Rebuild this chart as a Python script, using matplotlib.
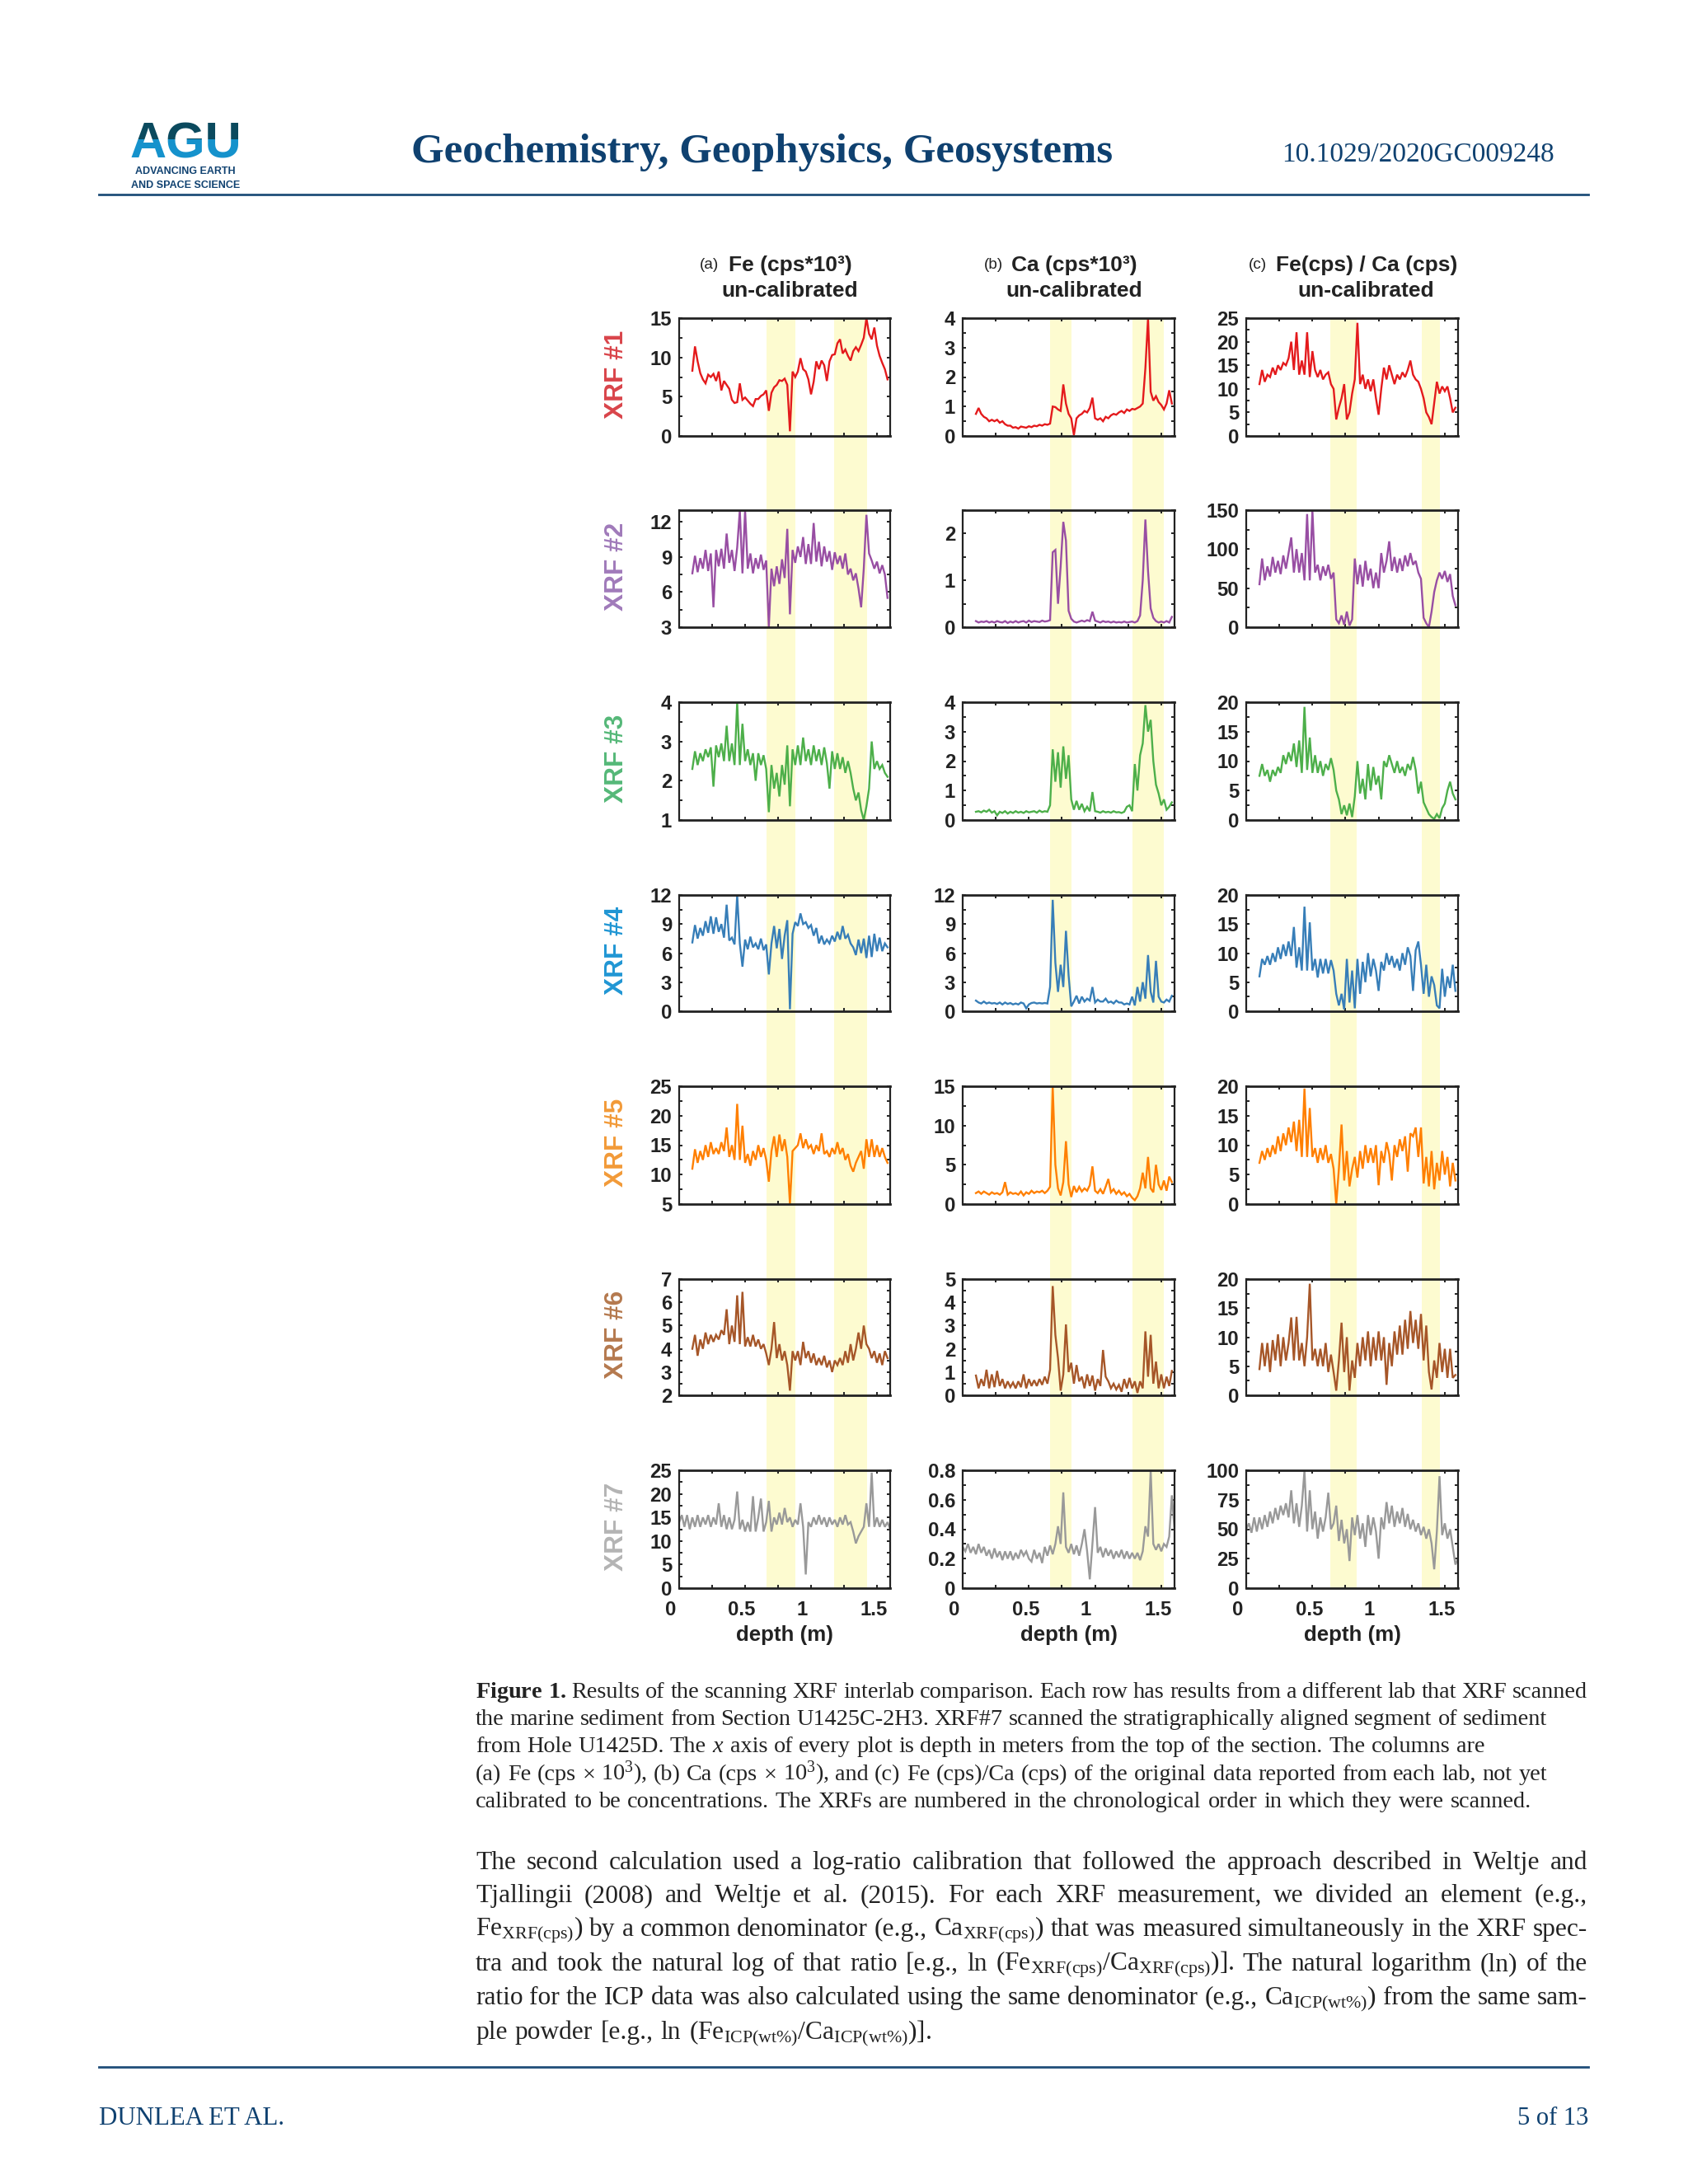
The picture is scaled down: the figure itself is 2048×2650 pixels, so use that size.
"""Scanning XRF interlab comparison figure on a journal page."""

import matplotlib

matplotlib.use("Agg")
import matplotlib.pyplot as plt
from matplotlib.patches import Rectangle
from matplotlib.ticker import AutoMinorLocator
from matplotlib.transforms import ScaledTranslation

plt.rcParams["mathtext.fontset"] = "custom"
plt.rcParams["mathtext.rm"] = "Liberation Serif"
plt.rcParams["mathtext.it"] = "Liberation Serif:italic"
plt.rcParams["mathtext.bf"] = "Liberation Serif:bold"

W, H = 2048, 2650
NAVY = "#0F4170"

DEPTH = [
    0.10, 0.12, 0.14, 0.16, 0.18, 0.20, 0.22, 0.24, 0.26, 0.28, 0.30, 0.32, 0.34, 0.36, 0.38,
    0.40, 0.42, 0.44, 0.46, 0.48, 0.50, 0.52, 0.54, 0.56, 0.58, 0.60, 0.62, 0.64, 0.66, 0.68,
    0.70, 0.72, 0.74, 0.76, 0.78, 0.80, 0.82, 0.84, 0.86, 0.88, 0.90, 0.92, 0.94, 0.96, 0.98,
    1.00, 1.02, 1.04, 1.06, 1.08, 1.10, 1.12, 1.14, 1.16, 1.18, 1.20, 1.22, 1.24, 1.26, 1.28,
    1.30, 1.32, 1.34, 1.36, 1.38, 1.40, 1.42, 1.44, 1.46, 1.48, 1.50, 1.52, 1.54, 1.56, 1.58,
]
# XRF #7 is the other hole, its record covers the whole axis
DEPTH_7 = [0.00, 0.02, 0.04, 0.06, 0.08] + DEPTH + [1.60]

FE_1 = [
    8.3, 11.4, 9.5, 8.0, 7.2, 6.7, 7.8, 7.5, 7.9, 7.0, 8.2, 5.8, 7.0, 6.5, 6.0,
    4.6, 4.2, 4.3, 6.7, 4.6, 4.9, 4.5, 4.1, 3.8, 4.7, 4.7, 5.1, 5.3, 5.8, 3.2,
    5.5, 6.2, 6.5, 7.1, 7.0, 7.3, 6.5, 0.6, 8.2, 7.5, 8.2, 9.9, 8.5, 8.2, 7.2,
    5.3, 6.9, 9.5, 8.5, 9.6, 9.0, 7.0, 9.5, 10.3, 10.4, 11.8, 12.3, 10.5, 11.0, 10.2,
    9.6, 10.8, 11.3, 10.8, 11.6, 12.5, 15.0, 13.0, 12.3, 13.8, 11.5, 10.2, 9.3, 8.5, 7.2,
]
CA_1 = [
    0.75, 0.95, 0.75, 0.65, 0.6, 0.5, 0.55, 0.5, 0.55, 0.45, 0.5, 0.4, 0.35, 0.35, 0.28,
    0.3, 0.25, 0.32, 0.3, 0.28, 0.33, 0.3, 0.35, 0.33, 0.38, 0.35, 0.4, 0.38, 0.42, 1.0,
    0.98, 0.9, 0.85, 1.75, 1.1, 0.75, 0.6, 0.03, 0.6, 0.7, 0.75, 0.85, 0.8, 0.95, 1.3,
    0.6, 0.55, 0.6, 0.5, 0.65, 0.6, 0.7, 0.75, 0.72, 0.8, 0.85, 0.78, 0.9, 0.85, 0.92,
    0.9, 0.95, 1.0, 1.1, 2.3, 4.0, 1.5, 1.2, 1.35, 1.15, 1.05, 0.9, 1.1, 1.55, 1.1,
]
RATIO_1 = [
    11, 14, 11.5, 13, 12.5, 14.5, 13, 15, 14, 15.5, 15, 16.5, 20, 14, 22,
    13, 16, 13, 22, 12.5, 18, 14, 12.5, 14, 12, 13, 13.5, 11, 10, 3.5,
    6, 8, 11, 3.5, 5, 9, 12, 24, 11, 13, 10, 12, 9.5, 12, 8,
    4.5, 10, 14.5, 12, 15, 13, 11, 13, 12, 13.5, 12.5, 14, 16, 13, 12,
    11.5, 10, 8, 5, 4, 2.5, 7, 11.5, 9, 10.5, 9.5, 10.5, 8, 5, 6,
]
FE_2 = [
    7.6, 9.1, 7.7, 8.9, 8.0, 9.6, 7.8, 9.3, 4.7, 9.6, 8.2, 9.7, 8.0, 11.0, 8.5,
    9.6, 7.8, 9.8, 13.0, 7.6, 13.0, 8.0, 9.3, 7.6, 8.9, 8.0, 9.2, 7.9, 8.7, 3.0,
    8.0, 6.5, 8.2, 6.7, 8.8, 7.2, 11.4, 4.1, 9.6, 8.5, 9.9, 9.0, 10.7, 8.4, 10.1,
    8.4, 11.9, 8.6, 10.3, 8.2, 9.9, 8.6, 9.5, 7.9, 9.4, 8.4, 9.1, 8.0, 9.3, 7.5,
    8.0, 7.0, 7.6, 6.3, 4.7, 8.0, 12.6, 9.3, 8.7, 8.0, 8.6, 7.6, 8.3, 7.5, 5.5,
]
CA_2 = [
    0.13, 0.1, 0.12, 0.11, 0.13, 0.1, 0.12, 0.1, 0.13, 0.11, 0.1, 0.13, 0.09, 0.12, 0.1,
    0.13, 0.1, 0.12, 0.13, 0.1, 0.14, 0.11, 0.13, 0.12, 0.11, 0.14, 0.12, 0.13, 0.15, 1.6,
    1.65, 0.5, 1.3, 2.25, 1.85, 0.35, 0.18, 0.12, 0.1, 0.12, 0.14, 0.12, 0.15, 0.13, 0.33,
    0.14, 0.12, 0.1, 0.13, 0.11, 0.12, 0.1, 0.12, 0.1, 0.11, 0.1, 0.12, 0.1, 0.11, 0.12,
    0.1, 0.13, 0.25, 1.0, 2.3, 1.2, 0.4, 0.2, 0.13, 0.1, 0.12, 0.1, 0.13, 0.1, 0.22,
]
RATIO_2 = [
    55, 88, 60, 78, 65, 90, 70, 85, 68, 92, 75, 95, 115, 70, 100,
    70, 95, 60, 145, 60, 150, 70, 80, 60, 78, 66, 80, 62, 70, 10,
    5, 15, 3, 20, 2, 10, 88, 55, 80, 52, 85, 60, 75, 50, 70,
    50, 95, 70, 85, 110, 72, 90, 70, 88, 72, 92, 78, 95, 80, 85,
    70, 62, 12, 5, 0, 20, 45, 60, 70, 62, 72, 58, 68, 40, 28,
]
FE_3 = [
    2.3, 2.75, 2.4, 2.7, 2.5, 2.8, 2.6, 2.85, 1.85, 2.9, 2.6, 2.95, 2.5, 3.4, 2.5,
    2.95, 2.4, 4.0, 2.4, 3.45, 2.5, 2.8, 2.4, 2.7, 2.0, 2.7, 2.4, 2.65, 2.3, 1.2,
    2.4, 1.8, 2.2, 1.6, 2.4, 1.9, 2.9, 1.35, 2.8, 2.4, 2.9, 2.4, 3.1, 2.5, 2.8,
    2.4, 2.9, 2.5, 2.8, 2.4, 2.85, 2.45, 1.8, 2.75, 2.3, 2.7, 2.3, 2.6, 2.2, 2.5,
    2.2, 1.8, 1.5, 1.7, 1.25, 1.0, 1.35, 1.8, 3.0, 2.3, 2.5, 2.3, 2.4, 2.2, 2.1,
]
CA_3 = [
    0.28, 0.3, 0.26, 0.32, 0.28, 0.35, 0.25, 0.3, 0.16, 0.28, 0.24, 0.3, 0.22, 0.28, 0.24,
    0.3, 0.25, 0.28, 0.24, 0.3, 0.26, 0.28, 0.3, 0.25, 0.32, 0.27, 0.3, 0.28, 0.5, 2.4,
    1.3, 2.3, 1.1, 2.5, 1.4, 2.2, 0.7, 0.35, 0.65, 0.35, 0.55, 0.3, 0.45, 0.3, 0.95,
    0.3, 0.28, 0.25, 0.3, 0.26, 0.28, 0.25, 0.3, 0.26, 0.27, 0.24, 0.28, 0.45, 0.5, 0.3,
    1.9, 1.0, 2.2, 2.6, 3.9, 3.0, 3.4, 2.0, 1.2, 0.9, 0.5, 0.7, 0.35, 0.45, 0.6,
]
RATIO_3 = [
    7.5, 9.5, 7.5, 8.5, 6.5, 8.5, 7.5, 9, 8, 11, 9.5, 11.5, 10, 13, 9,
    13.5, 8, 19.2, 8.5, 14, 8, 11, 8, 10, 7.5, 9.5, 8.5, 10.5, 8.5, 5,
    3.5, 1, 2.5, 0.8, 2.8, 0.5, 4, 10, 4.5, 7, 3.5, 9.5, 5, 9, 6,
    7.5, 3.5, 10, 9, 11, 9.5, 8, 10, 8, 9, 7.5, 9.5, 8.5, 10.7, 8.5,
    4.5, 6.5, 3, 2, 1, 0.5, 0.2, 1, 0.3, 2, 2.8, 5, 6.5, 4.5, 3.5,
]
FE_4 = [
    7.1, 8.9, 7.5, 8.6, 7.8, 9.3, 8.1, 9.8, 8.0, 9.7, 8.2, 9.0, 7.6, 11.0, 7.3,
    7.6, 6.9, 12.0, 7.0, 4.6, 7.4, 6.4, 7.7, 6.6, 7.0, 6.4, 7.5, 6.3, 6.9, 3.8,
    7.0, 8.8, 6.5, 8.5, 5.4, 7.8, 9.4, 0.2, 8.0, 9.2, 8.8, 10.1, 9.0, 9.2, 8.6,
    8.9, 7.8, 8.6, 7.0, 7.8, 6.9, 7.4, 7.0, 7.8, 7.2, 8.2, 7.4, 8.8, 7.5, 7.9,
    7.0, 6.6, 5.8, 7.4, 6.0, 7.5, 5.5, 7.8, 5.6, 8.0, 6.2, 7.6, 6.2, 7.0, 6.6,
]
CA_4 = [
    1.1, 0.9, 0.8, 1.0, 0.8, 0.9, 0.8, 0.85, 0.75, 0.9, 0.7, 0.9, 0.75, 0.85, 0.7,
    0.8, 0.7, 0.9, 0.8, 0.3, 0.7, 0.85, 0.9, 0.8, 0.85, 0.8, 0.85, 0.8, 2.5, 11.5,
    5, 2, 4.8, 2.5, 8.3, 3.7, 0.5, 1, 1.6, 0.8, 1.5, 1, 1.3, 1.1, 2.5,
    0.9, 1.2, 1, 1, 1.3, 0.9, 1, 0.8, 1.1, 0.9, 0.9, 0.7, 0.8, 0.7, 1.5,
    0.6, 2.5, 1, 3, 1.3, 5.8, 2, 0.9, 5.2, 1.5, 1, 0.9, 1.2, 1, 1.6,
]
RATIO_4 = [
    6, 9, 8, 9.5, 8, 10, 8.5, 11, 9, 11.5, 9.5, 12, 9.5, 14.5, 7.5,
    11, 7, 18, 7, 15.3, 7, 9, 5.8, 9, 6.5, 9, 6.5, 8.8, 7, 3,
    1, 3, 0.3, 9, 1.5, 7, 0.5, 9, 3, 8.5, 5, 10, 6, 9, 7,
    3.5, 8.5, 7, 10, 8, 9.5, 7.5, 9, 7, 10, 8, 11, 9.5, 3.5, 10.5,
    12, 8, 3, 8, 2.5, 6, 4.5, 1, 0.5, 7.3, 2.5, 6, 4, 8, 3.5,
]
FE_5 = [
    11, 14.3, 12, 14, 12.5, 15, 13, 15.5, 13.5, 14.5, 13.5, 15.5, 14, 18, 13,
    15, 12.5, 22, 12.5, 18.3, 12, 13.5, 11.5, 14, 12.5, 15, 13, 14.5, 12.5, 8.8,
    14, 16.5, 13, 16.8, 14, 16, 13, 5, 14, 14.5, 15, 17, 14.5, 16, 14.5,
    15, 13.5, 15, 14, 17, 13.5, 14, 13, 14.5, 13.5, 15.5, 13.5, 14.5, 12.5, 13.5,
    11.5, 10.5, 12, 13, 14, 11, 16, 13, 16, 13, 15, 13, 14.5, 13, 12,
]
CA_5 = [
    1.4, 1.6, 1.3, 1.6, 1.4, 1.2, 1.5, 1.3, 1.4, 1.2, 1.5, 2.8, 1.2, 1.5, 1.3,
    1.4, 1.2, 1.6, 1.1, 1.5, 1.3, 1.7, 1.4, 1.6, 1.5, 1.7, 1.4, 1.7, 2.2, 15,
    5, 2, 1.1, 2.8, 8, 2.5, 0.9, 2.3, 1.5, 2.2, 1.6, 2, 1.7, 2.4, 4.8,
    1.7, 1.4, 1.9, 1.3, 2.2, 3.2, 1.5, 1.9, 1.3, 1.7, 1.2, 1.5, 1, 1.3, 0.8,
    0.5, 1, 2, 4, 2, 6, 2, 1.5, 5, 2.5, 1.8, 3, 1.7, 3.5, 2.8,
]
RATIO_5 = [
    7, 9, 7.5, 9.5, 8, 10, 8.5, 11.5, 9, 12, 10, 13, 10.5, 14, 9,
    14.3, 8, 19.6, 8, 16.3, 8, 9.5, 7, 9.5, 7.5, 10, 7, 8.5, 6, 0,
    6, 13.5, 4, 9, 3, 6, 8, 4.5, 9, 6, 10, 7, 9.5, 7, 10,
    3.2, 9, 7, 10.5, 8.5, 4, 10, 8, 11, 9, 11.5, 5.5, 12, 11.5, 13,
    8, 13, 3.5, 8, 3, 9, 2.5, 7, 4, 9, 5, 8, 3, 7, 4,
]
FE_6 = [
    4, 4.6, 3.7, 4.4, 4, 4.7, 4.2, 4.6, 4.3, 4.6, 4.4, 4.8, 4.6, 5.7, 4.2,
    5, 4.3, 6.3, 4.2, 6.45, 4.1, 4.5, 4.1, 4.6, 4.1, 4.4, 4, 4.2, 3.8, 3.3,
    4, 5.15, 3.6, 4.2, 3.5, 3.9, 3.3, 2.2, 3.9, 3.5, 3.9, 3.3, 4.3, 3.6, 3.9,
    3.4, 3.8, 3.3, 3.6, 3.3, 3.7, 3.2, 3.5, 3, 3.5, 3.3, 3.6, 3.3, 3.9, 3.4,
    4.2, 3.5, 4, 4.7, 4, 5, 4.2, 4, 3.6, 3.9, 3.4, 3.8, 3.3, 3.9, 3.6,
]
CA_6 = [
    0.85, 0.3, 0.7, 0.4, 1.1, 0.3, 0.9, 0.35, 1.05, 0.4, 0.7, 0.3, 0.6, 0.35, 0.55,
    0.3, 0.6, 0.35, 0.9, 0.3, 0.7, 0.4, 0.65, 0.4, 0.7, 0.45, 0.8, 0.5, 1.1, 4.7,
    2.6, 1.6, 0.2, 0.9, 3.05, 1, 1.4, 0.5, 1.3, 0.6, 0.8, 0.3, 0.9, 0.4, 0.85,
    0.2, 0.7, 0.4, 1.95, 0.8, 0.6, 0.3, 0.5, 0.25, 0.45, 0.15, 0.7, 0.3, 0.75, 0.3,
    0.6, 0.1, 0.6, 0.3, 2.75, 0.8, 2.6, 0.5, 1.45, 0.3, 0.9, 0.3, 0.8, 0.4, 1.05,
]
RATIO_6 = [
    4.5, 9, 5, 9, 4, 9.5, 6, 10.5, 5, 10, 6, 9, 13.4, 6, 13.5,
    6, 9, 5, 10, 19.2, 6, 8, 5, 8, 5, 9, 4, 7, 4, 0.8,
    6, 12.5, 4, 10, 0.8, 6, 3, 9, 5, 10, 6, 11, 5, 10, 6,
    11, 6, 10, 1.8, 9, 5, 11, 7, 12, 7, 13, 8, 14.5, 9, 13,
    8, 14, 6, 12, 4, 1, 6, 3, 9, 4, 8, 3, 8, 3, 3.5,
]
FE_7 = [
    14, 15.5, 13, 15.5, 12.5,
    15, 13, 15.5, 13, 15, 13.5, 15.5, 13, 15, 13.5, 18, 13, 15.5, 12.5, 15,
    12.5, 14.5, 20.5, 12.5, 14.5, 12, 14, 12, 19.5, 12, 15, 19, 12, 14, 18.5,
    12, 15, 13.5, 16, 13.5, 17, 14, 15, 13, 14.5, 13.5, 18, 13, 2.9, 14,
    13, 15, 13.5, 15.5, 13.5, 15, 13, 15, 13.5, 14.5, 13, 15, 13.5, 15.5, 13.5,
    14, 12, 9.5, 11, 12, 13, 18, 13, 24.5, 13, 15, 13, 14.5, 13, 14,
    12.5,
]
CA_7 = [
    0.28, 0.25, 0.3, 0.24, 0.28,
    0.23, 0.3, 0.24, 0.28, 0.22, 0.26, 0.2, 0.27, 0.21, 0.25, 0.19, 0.25, 0.2, 0.25, 0.19,
    0.24, 0.2, 0.26, 0.22, 0.25, 0.2, 0.18, 0.26, 0.2, 0.24, 0.17, 0.28, 0.22, 0.29, 0.23,
    0.3, 0.42, 0.3, 0.65, 0.28, 0.24, 0.3, 0.23, 0.29, 0.22, 0.3, 0.4, 0.25, 0.06, 0.3,
    0.55, 0.24, 0.28, 0.21, 0.27, 0.22, 0.26, 0.2, 0.25, 0.21, 0.26, 0.2, 0.25, 0.2, 0.24,
    0.2, 0.24, 0.19, 0.25, 0.42, 0.35, 0.8, 0.3, 0.26, 0.3, 0.25, 0.3, 0.28, 0.35, 0.63,
    0.4,
]
RATIO_7 = [
    50, 55, 47, 60, 48,
    60, 50, 62, 52, 65, 55, 68, 58, 70, 62, 72, 60, 83, 55, 72,
    52, 70, 100, 48, 83, 50, 65, 42, 60, 48, 60, 81, 50, 55, 70,
    40, 58, 38, 50, 23, 60, 45, 62, 42, 55, 35, 62, 45, 60, 48,
    25, 60, 50, 73, 55, 70, 52, 65, 55, 68, 52, 63, 50, 58, 48,
    55, 45, 52, 42, 50, 38, 16, 48, 95, 45, 55, 42, 50, 35, 20,
    25,
]

ROW_NAMES = ["XRF #1", "XRF #2", "XRF #3", "XRF #4", "XRF #5", "XRF #6", "XRF #7"]
LINE_COLORS = ["#E41A1C", "#984EA3", "#4DAF4A", "#377EB8", "#FF7F00", "#A65628", "#999999"]
NAME_COLORS = ["#D9444A", "#A07ABA", "#55B878", "#2096D4", "#F29A38", "#B5794E", "#B4B4B4"]

# y ticks for the three columns of every row
FE_TICKS = [[0, 5, 10, 15], [3, 6, 9, 12], [1, 2, 3, 4], [0, 3, 6, 9, 12],
            [5, 10, 15, 20, 25], [2, 3, 4, 5, 6, 7], [0, 5, 10, 15, 20, 25]]
CA_TICKS = [[0, 1, 2, 3, 4], [0, 1, 2], [0, 1, 2, 3, 4], [0, 3, 6, 9, 12],
            [0, 5, 10, 15], [0, 1, 2, 3, 4, 5], [0, 0.2, 0.4, 0.6, 0.8]]
RATIO_TICKS = [[0, 5, 10, 15, 20, 25], [0, 50, 100, 150], [0, 5, 10, 15, 20], [0, 5, 10, 15, 20],
               [0, 5, 10, 15, 20], [0, 5, 10, 15, 20], [0, 25, 50, 75, 100]]
# top of the y axis where it is not the last tick
FE_TOP = [15, 13, 4, 12, 25, 7, 25]
CA_TOP = [4, 2.5, 4, 12, 15, 5, 0.8]
RATIO_TOP = [25, 150, 20, 20, 20, 20, 100]

# yellow sections, depth in m
BANDS_FE = [(0.664, 0.884), (1.177, 1.427)]
BANDS_CA = [(0.66, 0.823), (1.28, 1.52)]
BANDS_RATIO = [(0.638, 0.836), (1.328, 1.466)]

# pixel frame of the panels
COL_X = [(824, 1080), (1168, 1425), (1512, 1769)]
ROW_Y = [(386, 529), (619, 761), (852, 995), (1086, 1227), (1318, 1461), (1552, 1693), (1784, 1927)]

CAPTION = [
    (r"$\mathbf{Figure}$ $\mathbf{1.}$ Results of the scanning XRF interlab comparison. Each row has results from a different lab that XRF scanned", 2052, 1926),
    ("the marine sediment from Section U1425C-2H3. XRF#7 scanned the stratigraphically aligned segment of sediment", 2085, 1877),
    (r"from Hole U1425D. The $\mathit{x}$ axis of every plot is depth in meters from the top of the section. The columns are", 2118, 1801),
    (r"(a) Fe (cps $\times$ 10$^{3}$), (b) Ca (cps $\times$ 10$^{3}$), and (c) Fe (cps)/Ca (cps) of the original data reported from each lab, not yet", 2152, 1877),
    ("calibrated to be concentrations. The XRFs are numbered in the chronological order in which they were scanned.", 2185, 1858),
]
BODY = [
    ("The second calculation used a log-ratio calibration that followed the approach described in Weltje and", 2259, 1926),
    ("Tjallingii (2008) and Weltje et al. (2015). For each XRF measurement, we divided an element (e.g.,", 2299, 1926),
    (r"Fe$_{\mathrm{XRF(cps)}}$) by a common denominator (e.g., Ca$_{\mathrm{XRF(cps)}}$) that was measured simultaneously in the XRF spec-", 2340, 1926),
    (r"tra and took the natural log of that ratio [e.g., ln (Fe$_{\mathrm{XRF(cps)}}$/Ca$_{\mathrm{XRF(cps)}}$)]. The natural logarithm (ln) of the", 2382, 1926),
    (r"ratio for the ICP data was also calculated using the same denominator (e.g., Ca$_{\mathrm{ICP(wt\%)}}$) from the same sam-", 2423, 1926),
    (r"ple powder [e.g., ln (Fe$_{\mathrm{ICP(wt\%)}}$/Ca$_{\mathrm{ICP(wt\%)}}$)].", 2465, 1130),
]

SERIES = [
    [FE_1, CA_1, RATIO_1], [FE_2, CA_2, RATIO_2], [FE_3, CA_3, RATIO_3], [FE_4, CA_4, RATIO_4],
    [FE_5, CA_5, RATIO_5], [FE_6, CA_6, RATIO_6], [FE_7, CA_7, RATIO_7],
]
TICKS = list(zip(FE_TICKS, CA_TICKS, RATIO_TICKS))
TOPS = list(zip(FE_TOP, CA_TOP, RATIO_TOP))
BANDS = [BANDS_FE, BANDS_CA, BANDS_RATIO]


def fx(x):
    return x / W


def fy(y):
    return 1 - y / H


def place_line(fig, renderer, line, y, x0, x1, size, color="#222222"):
    """Draw a line word by word so that it runs from x0 to x1 (pixels)."""
    words = []
    for word in line.split(" "):
        t = fig.text(fx(x0), fy(y), word, fontsize=size, color=color,
                     family="Liberation Serif", va="baseline", ha="left")
        words.append((t, t.get_window_extent(renderer).width))
    gap = (x1 - x0 - sum(w for _, w in words)) / max(len(words) - 1, 1)
    x = x0
    for t, w in words:
        t.set_x(fx(x))
        x += w + gap


fig = plt.figure(figsize=(W / 200, H / 200), dpi=200, facecolor="white")
renderer = fig.canvas.get_renderer()

# yellow sections run through all the rows of a column
for (left, right), bands in zip(COL_X, BANDS):
    back = fig.add_axes([fx(left), fy(ROW_Y[-1][1]), (right - left) / W, (ROW_Y[-1][1] - ROW_Y[0][0]) / H],
                        zorder=0)
    back.set_xlim(0, 1.6)
    back.axis("off")
    for start, end in bands:
        back.axvspan(start, end, color="#FDFBD0", lw=0)

for r, (top, bottom) in enumerate(ROW_Y):
    for c, (left, right) in enumerate(COL_X):
        ax = fig.add_axes([fx(left), fy(bottom), (right - left) / W, (bottom - top) / H], zorder=2)
        ax.patch.set_alpha(0)
        depth = DEPTH_7 if r == 6 else DEPTH
        ax.plot(depth, SERIES[r][c], color=LINE_COLORS[r], lw=0.85, solid_joinstyle="miter")
        ax.set_xlim(0, 1.6)
        ax.set_ylim(TICKS[r][c][0], TOPS[r][c])
        ax.set_yticks(TICKS[r][c])
        ax.set_yticklabels([str(v) for v in TICKS[r][c]])
        ax.set_xticks([0, 0.5, 1, 1.5])
        ax.set_xticks([0.25, 0.75, 1.25], minor=True)
        ax.yaxis.set_minor_locator(AutoMinorLocator(2))
        ax.tick_params(which="both", direction="in", top=True, right=True, length=1.6, width=0.7,
                       color="#222222", pad=3.2)
        ax.tick_params(axis="x", which="major", pad=5.5)
        for name, spine in ax.spines.items():
            spine.set_linewidth(1.0 if name in ("top", "bottom") else 0.8)
            spine.set_color("#222222")
        for lab in ax.get_yticklabels() + ax.get_xticklabels():
            lab.set_family("Liberation Sans")
            lab.set_fontweight("bold")
            lab.set_fontsize(8.6)
            lab.set_color("#222222")
        if r == 6:
            ax.set_xticklabels(["0", "0.5", "1", "1.5"])
            # the labels sit a little left of their ticks in the original
            for lab, shift in zip(ax.get_xticklabels(), [-3.6, -1.4, -4.0, -1.4]):
                lab.set_transform(lab.get_transform() + ScaledTranslation(shift / 72, 0, fig.dpi_scale_trans))
            ax.set_xlabel("depth (m)", family="Liberation Sans", fontweight="bold", fontsize=9.3,
                          color="#222222", labelpad=2.5)
        else:
            ax.set_xticklabels([])
    fig.text(fx(748), fy((top + bottom) / 2 - 3), ROW_NAMES[r], rotation=90, ha="center", va="center",
             family="Liberation Sans", fontweight="bold", fontsize=11.4, color=NAME_COLORS[r])

# column heads
for small, small_x, head, head_x, center in [
    ("(a)", 860, "Fe (cps*10³)", 884, 958),
    ("(b)", 1205, "Ca (cps*10³)", 1227, 1303),
    ("(c)", 1526, "Fe(cps) / Ca (cps)", 1548, 1657),
]:
    fig.text(fx(small_x), fy(322), small, ha="center", va="center", family="Liberation Sans",
             fontsize=6.8, color="#222222")
    fig.text(fx(head_x), fy(322), head, ha="left", va="center", family="Liberation Sans",
             fontweight="bold", fontsize=9.5, color="#222222")
    fig.text(fx(center), fy(353), "un-calibrated", ha="center", va="center", family="Liberation Sans",
             fontweight="bold", fontsize=9.5, color="#222222")

# page header
fig.text(fx(499), fy(197), "Geochemistry, Geophysics, Geosystems", family="Liberation Serif",
         fontweight="bold", fontsize=18.3, color=NAVY, va="baseline")
fig.text(fx(1886), fy(196), "10.1029/2020GC009248", family="Liberation Serif", fontsize=12.0,
         color=NAVY, ha="right", va="baseline")
for y in (236, 2508):
    fig.add_artist(plt.Line2D([fx(120), fx(1927)], [fy(y), fy(y)], color="#1F4E79", lw=1.0))

# logo: the letters change colour across a horizontal cut
for color, y0, y1 in [("#0B4A5E", 143, 169), ("#1592CC", 169, 193)]:
    clip = Rectangle((fx(150), fy(y1)), 150 / W, (y1 - y0) / H, transform=fig.transFigure)
    logo = fig.text(fx(225), fy(192), "AGU", family="Liberation Sans", fontweight="bold", fontsize=22,
                    color=color, ha="center", va="baseline")
    logo.set_clip_path(clip)
    logo.set_clip_on(True)
fig.text(fx(225), fy(208), "ADVANCING EARTH", family="Liberation Sans", fontweight="bold", fontsize=4.5,
         color=NAVY, ha="center", va="center")
fig.text(fx(225), fy(225), "AND SPACE SCIENCE", family="Liberation Sans", fontweight="bold", fontsize=4.5,
         color=NAVY, ha="center", va="center")

# caption and running text
for line, y, x1 in CAPTION:
    place_line(fig, renderer, line, y + 8, 577, x1, 10.2)
for line, y, x1 in BODY:
    place_line(fig, renderer, line, y + 9, 577, x1, 11.3)

# footer
fig.text(fx(120), fy(2578), "DUNLEA ET AL.", family="Liberation Serif", fontsize=11.1, color=NAVY, va="baseline")
fig.text(fx(1927), fy(2578), "5 of 13", family="Liberation Serif", fontsize=11, color=NAVY, ha="right", va="baseline")

fig.savefig("out.png", dpi=200)
